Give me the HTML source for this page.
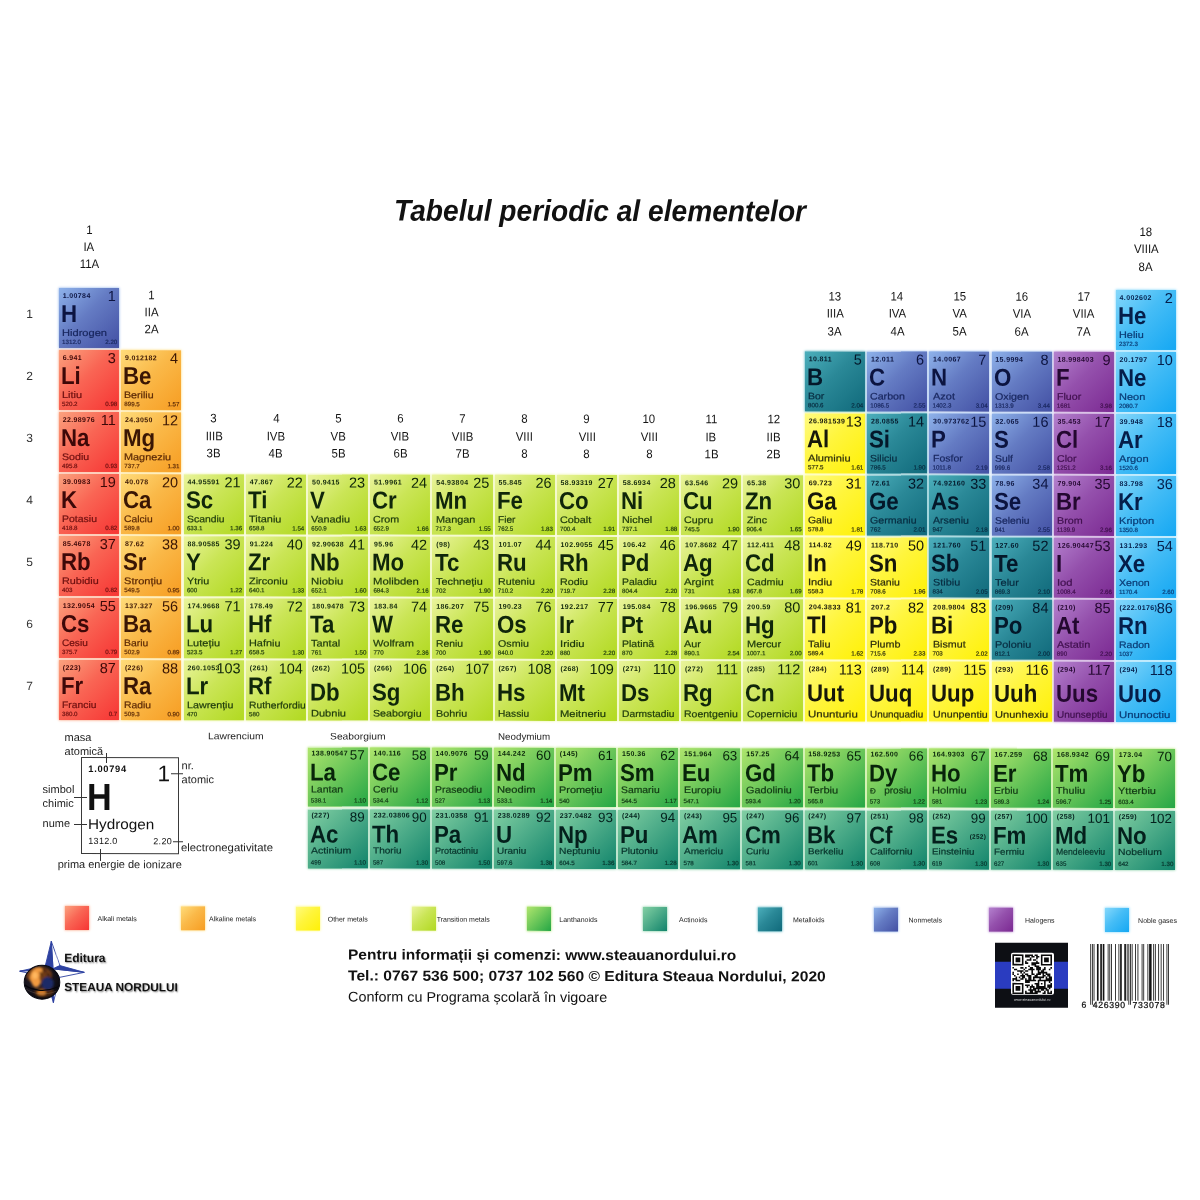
<!DOCTYPE html>
<html lang="ro">
<head>
<meta charset="utf-8">
<title>Tabelul periodic al elementelor</title>
<style>
html,body{margin:0;padding:0;background:#fff}
body{width:1200px;height:1200px;overflow:hidden;position:relative;font-family:"Liberation Sans",sans-serif;color:#1a1a1a}
#pg{position:absolute;left:0;top:0;width:1200px;height:1200px;transform:skewY(0.103deg);transform-origin:59px 288px}
#pg>div,#pg>span,#pg>svg,.c>span{position:absolute}
span{white-space:nowrap}
.c{width:60.2px;height:59.5px}
.m{left:3.8px;top:3.8px;font-weight:bold;font-size:7px;line-height:7px;letter-spacing:.38px}
.z{right:3.2px;top:1.2px;font-size:14.5px;line-height:14.5px}
.s{left:2.2px;top:13.7px;font-weight:bold;font-size:24.5px;line-height:24.5px;transform:scaleX(.91);transform-origin:0 0}
.n{left:3.3px;top:40.3px;font-size:9.5px;line-height:9.5px;transform:scaleX(1.2);transform-origin:0 0;-webkit-text-stroke:.22px currentColor}
.i{left:3.2px;top:50.7px;font-size:6.2px;line-height:6.2px;-webkit-text-stroke:.18px currentColor}
.e{right:1.8px;top:50.7px;font-size:6.2px;line-height:6.2px;-webkit-text-stroke:.18px currentColor}
.x .s{top:19.6px}
.x .n{top:48.4px}
.la,.ac{height:58.6px}
.la .m,.ac .m{top:1.5px}
.la .z,.ac .z{font-size:13.4px;line-height:13.4px;top:.5px}
.la .s,.ac .s{top:13.1px}
.la .n{top:36.5px}
.ac .n{font-size:8.9px;line-height:8.9px;top:37.2px}
.la .i,.la .e,.ac .i,.ac .e{top:49.9px}
.ak{background:linear-gradient(135deg,#fba27e 0%,#f96554 45%,#f73836 96%);color:#3d0808;box-shadow:0 0 2.4px .3px #fba27e}
.ak .n,.ak .i,.ak .e{color:#6e1010}
.ae{background:linear-gradient(135deg,#ffdc7a 0%,#fab949 45%,#f79f25 96%);color:#3a1604;box-shadow:0 0 2.4px .3px #ffdc7a}
.ae .n,.ae .i,.ae .e{color:#5c2a06}
.tm{background:linear-gradient(135deg,#eaf49c 0%,#cae556 45%,#b3da24 96%);color:#10260a;box-shadow:0 0 2.4px .3px #eaf49c}
.tm .n,.tm .i,.tm .e{color:#1e3a0c}
.om{background:linear-gradient(135deg,#fffb80 0%,#fff53c 45%,#fff10a 96%);color:#17170a;box-shadow:0 0 2.4px .3px #fffb80}
.om .n,.om .i,.om .e{color:#2e2e0c}
.md{background:linear-gradient(135deg,#4cafbc 0%,#2a8897 45%,#126c7d 96%);color:#04182a;box-shadow:0 0 2.4px .3px #4cafbc}
.md .n,.md .i,.md .e{color:#082c40}
.nm{background:linear-gradient(135deg,#8eb2ea 0%,#647bc3 45%,#4553a6 96%);color:#0c1440;box-shadow:0 0 2.4px .3px #8eb2ea}
.nm .n,.nm .i,.nm .e{color:#18265e}
.ha{background:linear-gradient(135deg,#b481ce 0%,#9450ac 45%,#7d2c94 96%);color:#240830;box-shadow:0 0 2.4px .3px #b481ce}
.ha .n,.ha .i,.ha .e{color:#40104e}
.ng{background:linear-gradient(135deg,#86d8fb 0%,#46bdf6 45%,#18a9f3 96%);color:#051e4a;box-shadow:0 0 2.4px .3px #86d8fb}
.ng .n,.ng .i,.ng .e{color:#0a3c76}
.la{background:linear-gradient(135deg,#ace46c 2%,#28a846 98%);color:#08240a;box-shadow:0 0 2.4px .3px #ace46c}
.la .n,.la .i,.la .e{color:#123a14}
.ac{background:linear-gradient(135deg,#80cea2 2%,#13856c 98%);color:#04201c;box-shadow:0 0 2.4px .3px #80cea2}
.ac .n,.ac .i,.ac .e{color:#08342c}
.g{width:70px;text-align:center;font-size:12.3px;line-height:17.2px;color:#151515}
.g span{display:inline-block;transform:scaleX(.93)}
.p{width:20px;text-align:center;font-size:12px;line-height:12px;color:#333}
#ttl{left:394.4px;top:194.7px;transform:scaleX(.9386);font-weight:bold;font-style:italic;font-size:30px;line-height:30px;color:#111;transform-origin:0 0;white-space:nowrap}
.lg{width:24px;height:24px}
.lt{font-size:7px;line-height:7px;color:#222}
.k{font-size:11px;line-height:11px;color:#222}
.ln{background:#333}
.ft{left:347.5px;font-size:14.5px;line-height:14.5px;color:#111;transform-origin:0 0;white-space:nowrap}
.lo{font-weight:bold;color:#111;text-shadow:.9px 1.1px 1.5px rgba(0,0,0,.42);transform-origin:0 0}
.bc{font-size:8.7px;line-height:8.7px;color:#111;letter-spacing:.68px;-webkit-text-stroke:.25px #111}
small{font-size:.8em}
.sm{font-size:9.5px;line-height:9.5px;color:#222;transform:scaleX(1.085);transform-origin:0 0}
</style>
</head>
<body>
<div id="pg">
<div id="ttl">Tabelul periodic al elementelor</div>
<div class="g" style="left:54.0px;top:221.9px"><span>1</span><br><span>IA</span><br><span>11A</span></div>
<div class="g" style="left:116.2px;top:286.9px"><span>1</span><br><span>IIA</span><br><span>2A</span></div>
<div class="g" style="left:178.8px;top:410.4px"><span>3</span><br><span>IIIB</span><br><span>3B</span></div>
<div class="g" style="left:241.0px;top:410.4px"><span>4</span><br><span>IVB</span><br><span>4B</span></div>
<div class="g" style="left:303.2px;top:410.4px"><span>5</span><br><span>VB</span><br><span>5B</span></div>
<div class="g" style="left:365.4px;top:410.4px"><span>6</span><br><span>VIB</span><br><span>6B</span></div>
<div class="g" style="left:427.5px;top:410.4px"><span>7</span><br><span>VIIB</span><br><span>7B</span></div>
<div class="g" style="left:489.7px;top:410.4px"><span>8</span><br><span>VIII</span><br><span>8</span></div>
<div class="g" style="left:551.9px;top:410.4px"><span>9</span><br><span>VIII</span><br><span>8</span></div>
<div class="g" style="left:614.0px;top:410.4px"><span>10</span><br><span>VIII</span><br><span>8</span></div>
<div class="g" style="left:676.2px;top:410.4px"><span>11</span><br><span>IB</span><br><span>1B</span></div>
<div class="g" style="left:738.4px;top:410.4px"><span>12</span><br><span>IIB</span><br><span>2B</span></div>
<div class="g" style="left:800.0px;top:287.1px"><span>13</span><br><span>IIIA</span><br><span>3A</span></div>
<div class="g" style="left:862.2px;top:287.1px"><span>14</span><br><span>IVA</span><br><span>4A</span></div>
<div class="g" style="left:924.4px;top:287.1px"><span>15</span><br><span>VA</span><br><span>5A</span></div>
<div class="g" style="left:986.6px;top:287.1px"><span>16</span><br><span>VIA</span><br><span>6A</span></div>
<div class="g" style="left:1048.7px;top:287.1px"><span>17</span><br><span>VIIA</span><br><span>7A</span></div>
<div class="g" style="left:1110.9px;top:222.1px"><span>18</span><br><span>VIIIA</span><br><span>8A</span></div>
<div class="p" style="left:19.5px;top:308.0px">1</div>
<div class="p" style="left:19.5px;top:370.0px">2</div>
<div class="p" style="left:19.5px;top:432.0px">3</div>
<div class="p" style="left:19.5px;top:494.0px">4</div>
<div class="p" style="left:19.5px;top:556.0px">5</div>
<div class="p" style="left:19.5px;top:618.0px">6</div>
<div class="p" style="left:19.5px;top:680.0px">7</div>
<div class="c nm" style="left:58.9px;top:288.0px"><span class="m">1.00784</span><span class="z">1</span><span class="s">H</span><span class="n" style="transform:scaleX(1.168)">Hidrogen</span><span class="i">1312.0</span><span class="e">2.20</span></div>
<div class="c ng" style="left:1115.8px;top:288.0px"><span class="m">4.002602</span><span class="z">2</span><span class="s">He</span><span class="n" style="transform:scaleX(1.144)">Heliu</span><span class="i">2372.3</span></div>
<div class="c ak" style="left:58.9px;top:350.0px"><span class="m">6.941</span><span class="z">3</span><span class="s">Li</span><span class="n" style="transform:scaleX(1.157)">Litiu</span><span class="i">520.2</span><span class="e">0.98</span></div>
<div class="c ae" style="left:121.1px;top:350.0px"><span class="m">9.012182</span><span class="z">4</span><span class="s">Be</span><span class="n" style="transform:scaleX(1.124)">Beriliu</span><span class="i">899.5</span><span class="e">1.57</span></div>
<div class="c md" style="left:804.9px;top:350.0px"><span class="m">10.811</span><span class="z">5</span><span class="s">B</span><span class="n" style="transform:scaleX(1.106)">Bor</span><span class="i">800.6</span><span class="e">2.04</span></div>
<div class="c nm" style="left:867.1px;top:350.0px"><span class="m">12.011</span><span class="z">6</span><span class="s">C</span><span class="n" style="transform:scaleX(1.119)">Carbon</span><span class="i">1086.5</span><span class="e">2.55</span></div>
<div class="c nm" style="left:929.3px;top:350.0px"><span class="m">14.0067</span><span class="z">7</span><span class="s">N</span><span class="n" style="transform:scaleX(1.155)">Azot</span><span class="i">1402.3</span><span class="e">3.04</span></div>
<div class="c nm" style="left:991.5px;top:350.0px"><span class="m">15.9994</span><span class="z">8</span><span class="s">O</span><span class="n" style="transform:scaleX(1.129)">Oxigen</span><span class="i">1313.9</span><span class="e">3.44</span></div>
<div class="c ha" style="left:1053.6px;top:350.0px"><span class="m">18.998403</span><span class="z">9</span><span class="s">F</span><span class="n" style="transform:scaleX(1.117)">Fluor</span><span class="i">1681</span><span class="e">3.98</span></div>
<div class="c ng" style="left:1115.8px;top:350.0px"><span class="m">20.1797</span><span class="z">10</span><span class="s">Ne</span><span class="n" style="transform:scaleX(1.157)">Neon</span><span class="i">2080.7</span></div>
<div class="c ak" style="left:58.9px;top:412.0px"><span class="m">22.98976</span><span class="z">11</span><span class="s">Na</span><span class="n" style="transform:scaleX(1.122)">Sodiu</span><span class="i">495.8</span><span class="e">0.93</span></div>
<div class="c ae" style="left:121.1px;top:412.0px"><span class="m">24.3050</span><span class="z">12</span><span class="s">Mg</span><span class="n" style="transform:scaleX(1.144)">Magneziu</span><span class="i">737.7</span><span class="e">1.31</span></div>
<div class="c om" style="left:804.9px;top:412.0px"><span class="m">26.981539</span><span class="z">13</span><span class="s">Al</span><span class="n" style="transform:scaleX(1.169)">Aluminiu</span><span class="i">577.5</span><span class="e">1.61</span></div>
<div class="c md" style="left:867.1px;top:412.0px"><span class="m">28.0855</span><span class="z">14</span><span class="s">Si</span><span class="n" style="transform:scaleX(1.105)">Siliciu</span><span class="i">786.5</span><span class="e">1.90</span></div>
<div class="c nm" style="left:929.3px;top:412.0px"><span class="m">30.973762</span><span class="z">15</span><span class="s">P</span><span class="n" style="transform:scaleX(1.106)">Fosfor</span><span class="i">1011.8</span><span class="e">2.19</span></div>
<div class="c nm" style="left:991.5px;top:412.0px"><span class="m">32.065</span><span class="z">16</span><span class="s">S</span><span class="n" style="transform:scaleX(1.094)">Sulf</span><span class="i">999.6</span><span class="e">2.58</span></div>
<div class="c ha" style="left:1053.6px;top:412.0px"><span class="m">35.453</span><span class="z">17</span><span class="s">Cl</span><span class="n" style="transform:scaleX(1.118)">Clor</span><span class="i">1251.2</span><span class="e">3.16</span></div>
<div class="c ng" style="left:1115.8px;top:412.0px"><span class="m">39.948</span><span class="z">18</span><span class="s">Ar</span><span class="n" style="transform:scaleX(1.169)">Argon</span><span class="i">1520.6</span></div>
<div class="c ak" style="left:58.9px;top:474.0px"><span class="m">39.0983</span><span class="z">19</span><span class="s">K</span><span class="n" style="transform:scaleX(1.104)">Potasiu</span><span class="i">418.8</span><span class="e">0.82</span></div>
<div class="c ae" style="left:121.1px;top:474.0px"><span class="m">40.078</span><span class="z">20</span><span class="s">Ca</span><span class="n" style="transform:scaleX(1.085)">Calciu</span><span class="i">589.8</span><span class="e">1.00</span></div>
<div class="c tm" style="left:183.7px;top:474.0px"><span class="m">44.95591</span><span class="z">21</span><span class="s">Sc</span><span class="n" style="transform:scaleX(1.094)">Scandiu</span><span class="i">633.1</span><span class="e">1.36</span></div>
<div class="c tm" style="left:245.9px;top:474.0px"><span class="m">47.867</span><span class="z">22</span><span class="s">Ti</span><span class="n" style="transform:scaleX(1.150)">Titaniu</span><span class="i">658.8</span><span class="e">1.54</span></div>
<div class="c tm" style="left:308.1px;top:474.0px"><span class="m">50.9415</span><span class="z">23</span><span class="s">V</span><span class="n" style="transform:scaleX(1.143)">Vanadiu</span><span class="i">650.9</span><span class="e">1.63</span></div>
<div class="c tm" style="left:370.2px;top:474.0px"><span class="m">51.9961</span><span class="z">24</span><span class="s">Cr</span><span class="n" style="transform:scaleX(1.128)">Crom</span><span class="i">652.9</span><span class="e">1.66</span></div>
<div class="c tm" style="left:432.4px;top:474.0px"><span class="m">54.93804</span><span class="z">25</span><span class="s">Mn</span><span class="n" style="transform:scaleX(1.148)">Mangan</span><span class="i">717.3</span><span class="e">1.55</span></div>
<div class="c tm" style="left:494.6px;top:474.0px"><span class="m">55.845</span><span class="z">26</span><span class="s">Fe</span><span class="n" style="transform:scaleX(1.062)">Fier</span><span class="i">762.5</span><span class="e">1.83</span></div>
<div class="c tm" style="left:556.8px;top:474.0px"><span class="m">58.93319</span><span class="z">27</span><span class="s">Co</span><span class="n" style="transform:scaleX(1.139)">Cobalt</span><span class="i">700.4</span><span class="e">1.91</span></div>
<div class="c tm" style="left:618.9px;top:474.0px"><span class="m">58.6934</span><span class="z">28</span><span class="s">Ni</span><span class="n" style="transform:scaleX(1.143)">Nichel</span><span class="i">737.1</span><span class="e">1.88</span></div>
<div class="c tm" style="left:681.1px;top:474.0px"><span class="m">63.546</span><span class="z">29</span><span class="s">Cu</span><span class="n" style="transform:scaleX(1.126)">Cupru</span><span class="i">745.5</span><span class="e">1.90</span></div>
<div class="c tm" style="left:743.3px;top:474.0px"><span class="m">65.38</span><span class="z">30</span><span class="s">Zn</span><span class="n" style="transform:scaleX(1.112)">Zinc</span><span class="i">906.4</span><span class="e">1.65</span></div>
<div class="c om" style="left:804.9px;top:474.0px"><span class="m">69.723</span><span class="z">31</span><span class="s">Ga</span><span class="n" style="transform:scaleX(1.098)">Galiu</span><span class="i">578.8</span><span class="e">1.81</span></div>
<div class="c md" style="left:867.1px;top:474.0px"><span class="m">72.61</span><span class="z">32</span><span class="s">Ge</span><span class="n" style="transform:scaleX(1.118)">Germaniu</span><span class="i">762</span><span class="e">2.01</span></div>
<div class="c md" style="left:929.3px;top:474.0px"><span class="m">74.92160</span><span class="z">33</span><span class="s">As</span><span class="n" style="transform:scaleX(1.116)">Arseniu</span><span class="i">947</span><span class="e">2.18</span></div>
<div class="c nm" style="left:991.5px;top:474.0px"><span class="m">78.96</span><span class="z">34</span><span class="s">Se</span><span class="n" style="transform:scaleX(1.092)">Seleniu</span><span class="i">941</span><span class="e">2.55</span></div>
<div class="c ha" style="left:1053.6px;top:474.0px"><span class="m">79.904</span><span class="z">35</span><span class="s">Br</span><span class="n" style="transform:scaleX(1.132)">Brom</span><span class="i">1139.9</span><span class="e">2.96</span></div>
<div class="c ng" style="left:1115.8px;top:474.0px"><span class="m">83.798</span><span class="z">36</span><span class="s">Kr</span><span class="n" style="transform:scaleX(1.171)">Kripton</span><span class="i">1350.8</span></div>
<div class="c ak" style="left:58.9px;top:536.0px"><span class="m">85.4678</span><span class="z">37</span><span class="s">Rb</span><span class="n" style="transform:scaleX(1.141)">Rubidiu</span><span class="i">403</span><span class="e">0.82</span></div>
<div class="c ae" style="left:121.1px;top:536.0px"><span class="m">87.62</span><span class="z">38</span><span class="s">Sr</span><span class="n" style="transform:scaleX(1.165)">Stronțiu</span><span class="i">549.5</span><span class="e">0.95</span></div>
<div class="c tm" style="left:183.7px;top:536.0px"><span class="m">88.90585</span><span class="z">39</span><span class="s">Y</span><span class="n" style="transform:scaleX(1.137)">Ytriu</span><span class="i">600</span><span class="e">1.22</span></div>
<div class="c tm" style="left:245.9px;top:536.0px"><span class="m">91.224</span><span class="z">40</span><span class="s">Zr</span><span class="n" style="transform:scaleX(1.150)">Zirconiu</span><span class="i">640.1</span><span class="e">1.33</span></div>
<div class="c tm" style="left:308.1px;top:536.0px"><span class="m">92.90638</span><span class="z">41</span><span class="s">Nb</span><span class="n" style="transform:scaleX(1.197)">Niobiu</span><span class="i">652.1</span><span class="e">1.60</span></div>
<div class="c tm" style="left:370.2px;top:536.0px"><span class="m">95.96</span><span class="z">42</span><span class="s">Mo</span><span class="n" style="transform:scaleX(1.191)">Molibden</span><span class="i">684.3</span><span class="e">2.16</span></div>
<div class="c tm" style="left:432.4px;top:536.0px"><span class="m">(98)</span><span class="z">43</span><span class="s">Tc</span><span class="n" style="transform:scaleX(1.149)">Technețiu</span><span class="i">702</span><span class="e">1.90</span></div>
<div class="c tm" style="left:494.6px;top:536.0px"><span class="m">101.07</span><span class="z">44</span><span class="s">Ru</span><span class="n" style="transform:scaleX(1.126)">Ruteniu</span><span class="i">710.2</span><span class="e">2.20</span></div>
<div class="c tm" style="left:556.8px;top:536.0px"><span class="m">102.9055</span><span class="z">45</span><span class="s">Rh</span><span class="n" style="transform:scaleX(1.127)">Rodiu</span><span class="i">719.7</span><span class="e">2.28</span></div>
<div class="c tm" style="left:618.9px;top:536.0px"><span class="m">106.42</span><span class="z">46</span><span class="s">Pd</span><span class="n" style="transform:scaleX(1.101)">Paladiu</span><span class="i">804.4</span><span class="e">2.20</span></div>
<div class="c tm" style="left:681.1px;top:536.0px"><span class="m">107.8682</span><span class="z">47</span><span class="s">Ag</span><span class="n" style="transform:scaleX(1.192)">Argint</span><span class="i">731</span><span class="e">1.93</span></div>
<div class="c tm" style="left:743.3px;top:536.0px"><span class="m">112.411</span><span class="z">48</span><span class="s">Cd</span><span class="n" style="transform:scaleX(1.122)">Cadmiu</span><span class="i">867.8</span><span class="e">1.69</span></div>
<div class="c om" style="left:804.9px;top:536.0px"><span class="m">114.82</span><span class="z">49</span><span class="s">In</span><span class="n" style="transform:scaleX(1.172)">Indiu</span><span class="i">558.3</span><span class="e">1.78</span></div>
<div class="c om" style="left:867.1px;top:536.0px"><span class="m">118.710</span><span class="z">50</span><span class="s">Sn</span><span class="n" style="transform:scaleX(1.108)">Staniu</span><span class="i">708.6</span><span class="e">1.96</span></div>
<div class="c md" style="left:929.3px;top:536.0px"><span class="m">121.760</span><span class="z">51</span><span class="s">Sb</span><span class="n" style="transform:scaleX(1.145)">Stibiu</span><span class="i">834</span><span class="e">2.05</span></div>
<div class="c md" style="left:991.5px;top:536.0px"><span class="m">127.60</span><span class="z">52</span><span class="s">Te</span><span class="n" style="transform:scaleX(1.160)">Telur</span><span class="i">869.3</span><span class="e">2.10</span></div>
<div class="c ha" style="left:1053.6px;top:536.0px"><span class="m">126.90447</span><span class="z">53</span><span class="s">I</span><span class="n" style="transform:scaleX(1.183)">Iod</span><span class="i">1008.4</span><span class="e">2.66</span></div>
<div class="c ng" style="left:1115.8px;top:536.0px"><span class="m">131.293</span><span class="z">54</span><span class="s">Xe</span><span class="n" style="transform:scaleX(1.117)">Xenon</span><span class="i">1170.4</span><span class="e">2.60</span></div>
<div class="c ak" style="left:58.9px;top:598.0px"><span class="m">132.9054</span><span class="z">55</span><span class="s">Cs</span><span class="n" style="transform:scaleX(1.060)">Cesiu</span><span class="i">375.7</span><span class="e">0.79</span></div>
<div class="c ae" style="left:121.1px;top:598.0px"><span class="m">137.327</span><span class="z">56</span><span class="s">Ba</span><span class="n" style="transform:scaleX(1.094)">Bariu</span><span class="i">502.9</span><span class="e">0.89</span></div>
<div class="c tm" style="left:183.7px;top:598.0px"><span class="m">174.9668</span><span class="z">71</span><span class="s">Lu</span><span class="n" style="transform:scaleX(1.158)">Lutețiu</span><span class="i">523.5</span><span class="e">1.27</span></div>
<div class="c tm" style="left:245.9px;top:598.0px"><span class="m">178.49</span><span class="z">72</span><span class="s">Hf</span><span class="n" style="transform:scaleX(1.147)">Hafniu</span><span class="i">658.5</span><span class="e">1.30</span></div>
<div class="c tm" style="left:308.1px;top:598.0px"><span class="m">180.9478</span><span class="z">73</span><span class="s">Ta</span><span class="n" style="transform:scaleX(1.150)">Tantal</span><span class="i">761</span><span class="e">1.50</span></div>
<div class="c tm" style="left:370.2px;top:598.0px"><span class="m">183.84</span><span class="z">74</span><span class="s">W</span><span class="n" style="transform:scaleX(1.165)">Wolfram</span><span class="i">770</span><span class="e">2.36</span></div>
<div class="c tm" style="left:432.4px;top:598.0px"><span class="m">186.207</span><span class="z">75</span><span class="s">Re</span><span class="n" style="transform:scaleX(1.090)">Reniu</span><span class="i">700</span><span class="e">1.90</span></div>
<div class="c tm" style="left:494.6px;top:598.0px"><span class="m">190.23</span><span class="z">76</span><span class="s">Os</span><span class="n" style="transform:scaleX(1.125)">Osmiu</span><span class="i">840.0</span><span class="e">2.20</span></div>
<div class="c tm" style="left:556.8px;top:598.0px"><span class="m">192.217</span><span class="z">77</span><span class="s">Ir</span><span class="n" style="transform:scaleX(1.186)">Iridiu</span><span class="i">880</span><span class="e">2.20</span></div>
<div class="c tm" style="left:618.9px;top:598.0px"><span class="m">195.084</span><span class="z">78</span><span class="s">Pt</span><span class="n" style="transform:scaleX(1.108)">Platină</span><span class="i">870</span><span class="e">2.28</span></div>
<div class="c tm" style="left:681.1px;top:598.0px"><span class="m">196.9665</span><span class="z">79</span><span class="s">Au</span><span class="n" style="transform:scaleX(1.143)">Aur</span><span class="i">890.1</span><span class="e">2.54</span></div>
<div class="c tm" style="left:743.3px;top:598.0px"><span class="m">200.59</span><span class="z">80</span><span class="s">Hg</span><span class="n" style="transform:scaleX(1.154)">Mercur</span><span class="i">1007.1</span><span class="e">2.00</span></div>
<div class="c om" style="left:804.9px;top:598.0px"><span class="m">204.3833</span><span class="z">81</span><span class="s">Tl</span><span class="n" style="transform:scaleX(1.156)">Taliu</span><span class="i">589.4</span><span class="e">1.62</span></div>
<div class="c om" style="left:867.1px;top:598.0px"><span class="m">207.2</span><span class="z">82</span><span class="s">Pb</span><span class="n" style="transform:scaleX(1.135)">Plumb</span><span class="i">715.6</span><span class="e">2.33</span></div>
<div class="c om" style="left:929.3px;top:598.0px"><span class="m">208.9804</span><span class="z">83</span><span class="s">Bi</span><span class="n" style="transform:scaleX(1.123)">Bismut</span><span class="i">703</span><span class="e">2.02</span></div>
<div class="c md" style="left:991.5px;top:598.0px"><span class="m">(209)</span><span class="z">84</span><span class="s">Po</span><span class="n" style="transform:scaleX(1.145)">Poloniu</span><span class="i">812.1</span><span class="e">2.00</span></div>
<div class="c ha" style="left:1053.6px;top:598.0px"><span class="m">(210)</span><span class="z">85</span><span class="s">At</span><span class="n" style="transform:scaleX(1.144)">Astatin</span><span class="i">890</span><span class="e">2.20</span></div>
<div class="c ng" style="left:1115.8px;top:598.0px"><span class="m">(222.0176)</span><span class="z">86</span><span class="s">Rn</span><span class="n" style="transform:scaleX(1.103)">Radon</span><span class="i">1037</span></div>
<div class="c ak" style="left:58.9px;top:660.0px"><span class="m">(223)</span><span class="z">87</span><span class="s">Fr</span><span class="n" style="transform:scaleX(1.089)">Franciu</span><span class="i">380.0</span><span class="e">0.7</span></div>
<div class="c ae" style="left:121.1px;top:660.0px"><span class="m">(226)</span><span class="z">88</span><span class="s">Ra</span><span class="n" style="transform:scaleX(1.094)">Radiu</span><span class="i">509.3</span><span class="e">0.90</span></div>
<div class="c tm" style="left:183.7px;top:660.0px"><span class="m">260.1053</span><span class="z">103</span><span class="s">Lr</span><span class="n" style="transform:scaleX(1.128)">Lawrențiu</span><span class="i">470</span></div>
<div class="c tm" style="left:245.9px;top:660.0px"><span class="m">(261)</span><span class="z">104</span><span class="s">Rf</span><span class="n" style="transform:scaleX(1.086)">Rutherfordiu</span><span class="i">580</span></div>
<div class="c tm x" style="left:308.1px;top:660.0px"><span class="m">(262)</span><span class="z">105</span><span class="s">Db</span><span class="n" style="transform:scaleX(1.163)">Dubniu</span></div>
<div class="c tm x" style="left:370.2px;top:660.0px"><span class="m">(266)</span><span class="z">106</span><span class="s">Sg</span><span class="n" style="transform:scaleX(1.122)">Seaborgiu</span></div>
<div class="c tm x" style="left:432.4px;top:660.0px"><span class="m">(264)</span><span class="z">107</span><span class="s">Bh</span><span class="n" style="transform:scaleX(1.137)">Bohriu</span></div>
<div class="c tm x" style="left:494.6px;top:660.0px"><span class="m">(267)</span><span class="z">108</span><span class="s">Hs</span><span class="n" style="transform:scaleX(1.074)">Hassiu</span></div>
<div class="c tm x" style="left:556.8px;top:660.0px"><span class="m">(268)</span><span class="z">109</span><span class="s">Mt</span><span class="n" style="transform:scaleX(1.179)">Meitneriu</span></div>
<div class="c tm x" style="left:618.9px;top:660.0px"><span class="m">(271)</span><span class="z">110</span><span class="s">Ds</span><span class="n" style="transform:scaleX(1.081)">Darmstadiu</span></div>
<div class="c tm x" style="left:681.1px;top:660.0px"><span class="m">(272)</span><span class="z">111</span><span class="s">Rg</span><span class="n" style="transform:scaleX(1.106)">Roentgeniu</span></div>
<div class="c tm x" style="left:743.3px;top:660.0px"><span class="m">(285)</span><span class="z">112</span><span class="s">Cn</span><span class="n" style="transform:scaleX(1.112)">Coperniciu</span></div>
<div class="c om x" style="left:804.9px;top:660.0px"><span class="m">(284)</span><span class="z">113</span><span class="s">Uut</span><span class="n" style="transform:scaleX(1.209)">Ununturiu</span></div>
<div class="c om x" style="left:867.1px;top:660.0px"><span class="m">(289)</span><span class="z">114</span><span class="s">Uuq</span><span class="n" style="transform:scaleX(1.040)">Ununquadiu</span></div>
<div class="c om x" style="left:929.3px;top:660.0px"><span class="m">(289)</span><span class="z">115</span><span class="s">Uup</span><span class="n" style="transform:scaleX(1.128)">Ununpentiu</span></div>
<div class="c om x" style="left:991.5px;top:660.0px"><span class="m">(293)</span><span class="z">116</span><span class="s">Uuh</span><span class="n" style="transform:scaleX(1.169)">Ununhexiu</span></div>
<div class="c ha x" style="left:1053.6px;top:660.0px"><span class="m">(294)</span><span class="z">117</span><span class="s">Uus</span><span class="n" style="transform:scaleX(1.051)">Ununseptiu</span></div>
<div class="c ng x" style="left:1115.8px;top:660.0px"><span class="m">(294)</span><span class="z">118</span><span class="s">Uuo</span><span class="n" style="transform:scaleX(1.202)">Ununoctiu</span></div>
<div class="c la" style="left:307.6px;top:747.2px"><span class="m">138.90547</span><span class="z">57</span><span class="s">La</span><span class="n" style="transform:scaleX(1.105)">Lantan</span><span class="i">538.1</span><span class="e">1.10</span></div>
<div class="c la" style="left:369.7px;top:747.2px"><span class="m">140.116</span><span class="z">58</span><span class="s">Ce</span><span class="n" style="transform:scaleX(1.098)">Ceriu</span><span class="i">534.4</span><span class="e">1.12</span></div>
<div class="c la" style="left:431.8px;top:747.2px"><span class="m">140.9076</span><span class="z">59</span><span class="s">Pr</span><span class="n" style="transform:scaleX(1.102)">Praseodiu</span><span class="i">527</span><span class="e">1.13</span></div>
<div class="c la" style="left:493.9px;top:747.2px"><span class="m">144.242</span><span class="z">60</span><span class="s">Nd</span><span class="n" style="transform:scaleX(1.176)">Neodim</span><span class="i">533.1</span><span class="e">1.14</span></div>
<div class="c la" style="left:556.0px;top:747.2px"><span class="m">(145)</span><span class="z">61</span><span class="s">Pm</span><span class="n" style="transform:scaleX(1.148)">Promețiu</span><span class="i">540</span></div>
<div class="c la" style="left:618.2px;top:747.2px"><span class="m">150.36</span><span class="z">62</span><span class="s">Sm</span><span class="n" style="transform:scaleX(1.093)">Samariu</span><span class="i">544.5</span><span class="e">1.17</span></div>
<div class="c la" style="left:680.3px;top:747.2px"><span class="m">151.964</span><span class="z">63</span><span class="s">Eu</span><span class="n" style="transform:scaleX(1.127)">Europiu</span><span class="i">547.1</span></div>
<div class="c la" style="left:742.4px;top:747.2px"><span class="m">157.25</span><span class="z">64</span><span class="s">Gd</span><span class="n" style="transform:scaleX(1.142)">Gadoliniu</span><span class="i">593.4</span><span class="e">1.20</span></div>
<div class="c la" style="left:804.5px;top:747.2px"><span class="m">158.9253</span><span class="z">65</span><span class="s">Tb</span><span class="n" style="transform:scaleX(1.170)">Terbiu</span><span class="i">565.8</span></div>
<div class="c la" style="left:866.6px;top:747.2px"><span class="m">162.500</span><span class="z">66</span><span class="s">Dy</span><span class="n" style="transform:scaleX(1.058)"><small>Đ</small>  prosiu</span><span class="i">573</span><span class="e">1.22</span></div>
<div class="c la" style="left:928.7px;top:747.2px"><span class="m">164.9303</span><span class="z">67</span><span class="s">Ho</span><span class="n" style="transform:scaleX(1.177)">Holmiu</span><span class="i">581</span><span class="e">1.23</span></div>
<div class="c la" style="left:990.8px;top:747.2px"><span class="m">167.259</span><span class="z">68</span><span class="s">Er</span><span class="n" style="transform:scaleX(1.100)">Erbiu</span><span class="i">589.3</span><span class="e">1.24</span></div>
<div class="c la" style="left:1052.9px;top:747.2px"><span class="m">168.9342</span><span class="z">69</span><span class="s">Tm</span><span class="n" style="transform:scaleX(1.133)">Thuliu</span><span class="i">596.7</span><span class="e">1.25</span></div>
<div class="c la" style="left:1115.0px;top:747.2px"><span class="m">173.04</span><span class="z">70</span><span class="s">Yb</span><span class="n" style="transform:scaleX(1.159)">Ytterbiu</span><span class="i">603.4</span></div>
<div class="c ac" style="left:307.6px;top:809.1px"><span class="m">(227)</span><span class="z">89</span><span class="s">Ac</span><span class="n" style="transform:scaleX(1.187)">Actinium</span><span class="i">499</span><span class="e">1.10</span></div>
<div class="c ac" style="left:369.7px;top:809.1px"><span class="m">232.03806</span><span class="z">90</span><span class="s">Th</span><span class="n" style="transform:scaleX(1.133)">Thoriu</span><span class="i">587</span><span class="e">1.30</span></div>
<div class="c ac" style="left:431.8px;top:809.1px"><span class="m">231.0358</span><span class="z">91</span><span class="s">Pa</span><span class="n" style="transform:scaleX(1.025)">Protactiniu</span><span class="i">508</span><span class="e">1.50</span></div>
<div class="c ac" style="left:493.9px;top:809.1px"><span class="m">238.0289</span><span class="z">92</span><span class="s">U</span><span class="n" style="transform:scaleX(1.123)">Uraniu</span><span class="i">597.6</span><span class="e">1.38</span></div>
<div class="c ac" style="left:556.0px;top:809.1px"><span class="m">237.0482</span><span class="z">93</span><span class="s">Np</span><span class="n" style="transform:scaleX(1.159)">Neptuniu</span><span class="i">604.5</span><span class="e">1.36</span></div>
<div class="c ac" style="left:618.2px;top:809.1px"><span class="m">(244)</span><span class="z">94</span><span class="s">Pu</span><span class="n" style="transform:scaleX(1.151)">Plutoniu</span><span class="i">584.7</span><span class="e">1.28</span></div>
<div class="c ac" style="left:680.3px;top:809.1px"><span class="m">(243)</span><span class="z">95</span><span class="s">Am</span><span class="n" style="transform:scaleX(1.134)">Americiu</span><span class="i">578</span><span class="e">1.30</span></div>
<div class="c ac" style="left:742.4px;top:809.1px"><span class="m">(247)</span><span class="z">96</span><span class="s">Cm</span><span class="n" style="transform:scaleX(1.111)">Curiu</span><span class="i">581</span><span class="e">1.30</span></div>
<div class="c ac" style="left:804.5px;top:809.1px"><span class="m">(247)</span><span class="z">97</span><span class="s">Bk</span><span class="n" style="transform:scaleX(1.103)">Berkeliu</span><span class="i">601</span><span class="e">1.30</span></div>
<div class="c ac" style="left:866.6px;top:809.1px"><span class="m">(251)</span><span class="z">98</span><span class="s">Cf</span><span class="n" style="transform:scaleX(1.137)">Californiu</span><span class="i">608</span><span class="e">1.30</span></div>
<div class="c ac" style="left:928.7px;top:809.1px"><span class="m">(252)</span><span class="z">99</span><span class="s">Es</span><span class="n" style="transform:scaleX(1.103)">Einsteiniu</span><span class="i">619</span><span class="e">1.30</span><span class="m" style="left:auto;right:2.8px;top:22.4px;font-size:6.4px;letter-spacing:.3px">(252)</span></div>
<div class="c ac" style="left:990.8px;top:809.1px"><span class="m">(257)</span><span class="z">100</span><span class="s">Fm</span><span class="n" style="transform:scaleX(1.104)">Fermiu</span><span class="i">627</span><span class="e">1.30</span></div>
<div class="c ac" style="left:1052.9px;top:809.1px"><span class="m">(258)</span><span class="z">101</span><span class="s">Md</span><span class="n" style="transform:scaleX(0.977)">Mendeleeviu</span><span class="i">635</span><span class="e">1.30</span></div>
<div class="c ac" style="left:1115.0px;top:809.1px"><span class="m">(259)</span><span class="z">102</span><span class="s">No</span><span class="n" style="transform:scaleX(1.170)">Nobelium</span><span class="i">642</span><span class="e">1.30</span></div>
<span class="sm" style="left:207.6px;top:730.6px">Lawrencium</span>
<span class="sm" style="left:329.5px;top:730.6px">Seaborgium</span>
<span class="sm" style="left:497.6px;top:730.8px;transform:scaleX(1.03)">Neodymium</span>
<div style="left:81.2px;top:757.2px;width:95.6px;height:95.2px;border:1px solid #3a3a3a"></div>
<span class="k" style="left:64.6px;top:732.1px;font-size:11px;line-height:11px;">masa</span>
<span class="k" style="left:64.6px;top:746.1px;font-size:11px;line-height:11px;">atomică</span>
<span class="k" style="left:181.6px;top:759.9px;font-size:11px;line-height:11px;">nr.</span>
<span class="k" style="left:181.6px;top:773.9px;font-size:11px;line-height:11px;">atomic</span>
<span class="k" style="left:42.6px;top:784.1px;font-size:11px;line-height:11px;">simbol</span>
<span class="k" style="left:42.6px;top:798.1px;font-size:11px;line-height:11px;">chimic</span>
<span class="k" style="left:42.6px;top:818.1px;font-size:11px;line-height:11px;">nume</span>
<span class="k" style="left:181.2px;top:841.5px;font-size:11px;line-height:11px;transform:scaleX(1.03);transform-origin:0 0">electronegativitate</span>
<span class="k" style="left:57.7px;top:858.7px;font-size:11px;line-height:11px;">prima energie de ionizare</span>
<span class="k" style="left:88.3px;top:765.4px;font-size:9.3px;line-height:9.3px;font-weight:bold;letter-spacing:.7px;color:#111">1.00794</span>
<span class="k" style="left:157.5px;top:763.3px;font-size:22.6px;line-height:22.6px;color:#111">1</span>
<span class="k" style="left:86.8px;top:777.8px;font-size:38px;line-height:38px;font-weight:bold;color:#111;transform:scaleX(.9);transform-origin:0 0">H</span>
<span class="k" style="left:88.0px;top:816.9px;font-size:14.3px;line-height:14.3px;color:#111;transform:scaleX(1.07);transform-origin:0 0">Hydrogen</span>
<span class="k" style="left:88.3px;top:837.0px;font-size:9px;line-height:9px;color:#111;letter-spacing:.3px">1312.0</span>
<span class="k" style="left:153.3px;top:837.0px;font-size:9px;line-height:9px;color:#111;letter-spacing:.3px">2.20</span>
<div class="ln" style="left:105.8px;top:752.7px;width:1.0px;height:10.5px"></div>
<div class="ln" style="left:170.8px;top:772.6px;width:12.0px;height:1.0px"></div>
<div class="ln" style="left:74.4px;top:796.7px;width:12.4px;height:1.0px"></div>
<div class="ln" style="left:74.4px;top:824.2px;width:12.4px;height:1.0px"></div>
<div class="ln" style="left:173.0px;top:840.9px;width:9.8px;height:1.0px"></div>
<div class="ln" style="left:99.9px;top:848.5px;width:1.0px;height:12.0px"></div>
<div class="lg ak" style="left:65.0px;top:906.3px"></div><span class="lt" style="left:97.5px;top:914.5px">Alkali metals</span>
<div class="lg ae" style="left:180.5px;top:906.3px"></div><span class="lt" style="left:209.0px;top:914.5px">Alkaline metals</span>
<div class="lg om" style="left:296.0px;top:906.3px"></div><span class="lt" style="left:327.7px;top:914.5px">Other metals</span>
<div class="lg tm" style="left:411.5px;top:906.3px"></div><span class="lt" style="left:436.7px;top:914.5px">Transition metals</span>
<div class="lg la" style="left:527.0px;top:906.3px"></div><span class="lt" style="left:559.3px;top:914.5px">Lanthanoids</span>
<div class="lg ac" style="left:642.5px;top:906.3px"></div><span class="lt" style="left:679.0px;top:914.5px">Actinoids</span>
<div class="lg md" style="left:758.0px;top:906.3px"></div><span class="lt" style="left:793.0px;top:914.5px">Metalloids</span>
<div class="lg nm" style="left:873.5px;top:906.3px"></div><span class="lt" style="left:908.5px;top:914.5px">Nonmetals</span>
<div class="lg ha" style="left:989.0px;top:906.3px"></div><span class="lt" style="left:1025.0px;top:914.5px">Halogens</span>
<div class="lg ng" style="left:1104.5px;top:906.3px"></div><span class="lt" style="left:1138.1px;top:914.5px">Noble gases</span>
<div class="ft" id="f1" style="top:947.0px;font-weight:bold;transform:scaleX(1.0703)">Pentru informații și comenzi: www.steauanordului.ro</div>
<div class="ft" id="f2" style="top:967.7px;font-weight:bold;transform:scaleX(1.078)">Tel.: 0767 536 500; 0737 102 560 © Editura Steaua Nordului, 2020</div>
<div class="ft" id="f3" style="top:988.9px;font-size:14px;transform:scaleX(1.028)">Conform cu Programa școlară în vigoare</div>
<svg style="left:14px;top:936px" width="80" height="72" viewBox="14 936 80 72">
<defs>
<radialGradient id="gl" cx="42%" cy="40%" r="62%"><stop offset="0" stop-color="#2a2230"/><stop offset=".7" stop-color="#15121a"/><stop offset="1" stop-color="#08080e"/></radialGradient>
<radialGradient id="or" cx="45%" cy="35%" r="65%"><stop offset="0" stop-color="#f2a850"/><stop offset=".6" stop-color="#c8722a"/><stop offset="1" stop-color="#6a3414"/></radialGradient>
<filter id="bl" x="-20%" y="-20%" width="140%" height="140%"><feGaussianBlur stdDeviation=".8"/></filter>
<clipPath id="gc"><ellipse cx="42" cy="982.3" rx="17.6" ry="16.7"/></clipPath>
</defs>
<g stroke="#2d41a0" stroke-width=".9" stroke-linejoin="miter">
<polygon points="51.3,941.3 60,965.6 53,968.9" fill="#fff"/>
<polygon points="53,968.9 84.3,972.3 59.4,977.4" fill="#fff"/>
<polygon points="59.4,977.4 53.4,1002.6 53,968.9" fill="#fff"/>
<polygon points="53,968.9 19.7,971.3 46,977.2" fill="#fff"/>
<polygon points="51.3,941.3 45.4,965.4 53,968.9" fill="#2d41a0"/>
<polygon points="60,965.6 84.3,972.3 53,968.9" fill="#2d41a0"/>
<polygon points="46,977.2 53.4,1002.6 53,968.9" fill="#2d41a0"/>
<polygon points="45.4,965.4 19.7,971.3 53,968.9" fill="#2d41a0"/>
</g>
<path d="M55.2 947.5l3 16.5M56.6 946l3.2 17.5" stroke="#fff" stroke-width=".5" fill="none"/>
<ellipse cx="42" cy="982.3" rx="17.8" ry="16.9" fill="url(#gl)"/>
<g clip-path="url(#gc)">
<g filter="url(#bl)">
<ellipse cx="39" cy="975" rx="13" ry="8.5" fill="#6e3a16"/>
<ellipse cx="44" cy="992" rx="10" ry="5" fill="#4a2810"/>
<path d="M30.5 975c1-4 4-7 8-7.5 3 0 4.500 2 3.500 4.500-1 2-2.500 3-2.500 5.500s1.500 4 .5 6.500-3 3.500-5 3c-2-.5-3-3-4-5.500s-1.500-4.500-.5-6.500z" fill="#f09a40"/>
<ellipse cx="35" cy="975.5" rx="2.6" ry="3.6" fill="#ffb860"/>
<ellipse cx="47.6" cy="983.4" rx="6" ry="6.6" fill="#1a2a66"/>
<ellipse cx="41.5" cy="992.6" rx="4.4" ry="2.9" fill="#cf7a2c"/>
<path d="M44 969l2 3M40 972l1 3M33 986l2 2M47 974l3 2M50 978l3 1" stroke="#140c08" stroke-width="1.3" fill="none"/>
</g>
<path d="M25 985c6 5 19 8 33 2" stroke="#05050a" stroke-width="1.2" fill="none"/>
<path d="M26 989c7 5 19 7 31 2" stroke="#a09080" stroke-width=".45" fill="none" opacity=".55"/>
</g>
<ellipse cx="42" cy="982.3" rx="17.8" ry="16.9" fill="none" stroke="#0a0a12" stroke-width="1"/>
</svg>
<span class="lo" id="l1" style="left:64.2px;top:952.1px;font-size:12px;line-height:12px">Editura</span>
<span class="lo" id="l2" style="left:64.2px;top:981.8px;font-size:11.8px;line-height:11.8px">STEAUA NORDULUI</span>
<div style="left:995px;top:941.2px;width:73px;height:64.6px;background:#0d0f14"></div>
<div style="left:995px;top:960.2px;width:73px;height:27px;background:#2a3cc0"></div>
<div style="left:1011px;top:951.2px;width:42.6px;height:42.2px;background:#fff;border-radius:2px"></div>
<svg style="left:0;top:0" width="1200" height="1200" viewBox="0 0 1200 1200"><path fill="#0a0a0a" d="M1012.40 952.65h11.09v1.58h-11.09zM1025.07 952.65h7.92v1.58h-7.92zM1034.58 952.65h3.17v1.58h-3.17zM1040.91 952.65h11.09v1.58h-11.09zM1012.40 954.23h1.58v1.58h-1.58zM1021.90 954.23h1.58v1.58h-1.58zM1025.07 954.23h4.75v1.58h-4.75zM1031.41 954.23h3.17v1.58h-3.17zM1036.16 954.23h3.17v1.58h-3.17zM1040.91 954.23h1.58v1.58h-1.58zM1050.42 954.23h1.58v1.58h-1.58zM1012.40 955.82h1.58v1.58h-1.58zM1015.57 955.82h4.75v1.58h-4.75zM1021.90 955.82h1.58v1.58h-1.58zM1029.82 955.82h1.58v1.58h-1.58zM1036.16 955.82h1.58v1.58h-1.58zM1040.91 955.82h1.58v1.58h-1.58zM1044.08 955.82h4.75v1.58h-4.75zM1050.42 955.82h1.58v1.58h-1.58zM1012.40 957.40h1.58v1.58h-1.58zM1015.57 957.40h4.75v1.58h-4.75zM1021.90 957.40h1.58v1.58h-1.58zM1026.66 957.40h4.75v1.58h-4.75zM1032.99 957.40h3.17v1.58h-3.17zM1040.91 957.40h1.58v1.58h-1.58zM1044.08 957.40h4.75v1.58h-4.75zM1050.42 957.40h1.58v1.58h-1.58zM1012.40 958.99h1.58v1.58h-1.58zM1015.57 958.99h4.75v1.58h-4.75zM1021.90 958.99h1.58v1.58h-1.58zM1025.07 958.99h1.58v1.58h-1.58zM1036.16 958.99h1.58v1.58h-1.58zM1040.91 958.99h1.58v1.58h-1.58zM1044.08 958.99h4.75v1.58h-4.75zM1050.42 958.99h1.58v1.58h-1.58zM1012.40 960.57h1.58v1.58h-1.58zM1021.90 960.57h1.58v1.58h-1.58zM1025.07 960.57h3.17v1.58h-3.17zM1031.41 960.57h7.92v1.58h-7.92zM1040.91 960.57h1.58v1.58h-1.58zM1050.42 960.57h1.58v1.58h-1.58zM1012.40 962.15h11.09v1.58h-11.09zM1031.41 962.15h4.75v1.58h-4.75zM1040.91 962.15h11.09v1.58h-11.09zM1028.24 963.74h1.58v1.58h-1.58zM1034.58 963.74h4.75v1.58h-4.75zM1012.40 965.32h1.58v1.58h-1.58zM1020.32 965.32h3.17v1.58h-3.17zM1025.07 965.32h1.58v1.58h-1.58zM1029.82 965.32h3.17v1.58h-3.17zM1036.16 965.32h4.75v1.58h-4.75zM1044.08 965.32h1.58v1.58h-1.58zM1050.42 965.32h1.58v1.58h-1.58zM1013.98 966.91h3.17v1.58h-3.17zM1023.49 966.91h1.58v1.58h-1.58zM1028.24 966.91h6.34v1.58h-6.34zM1036.16 966.91h4.75v1.58h-4.75zM1042.50 966.91h3.17v1.58h-3.17zM1048.83 966.91h1.58v1.58h-1.58zM1017.15 968.49h6.34v1.58h-6.34zM1025.07 968.49h3.17v1.58h-3.17zM1031.41 968.49h1.58v1.58h-1.58zM1037.74 968.49h1.58v1.58h-1.58zM1040.91 968.49h3.17v1.58h-3.17zM1012.40 970.07h1.58v1.58h-1.58zM1020.32 970.07h1.58v1.58h-1.58zM1023.49 970.07h1.58v1.58h-1.58zM1031.41 970.07h1.58v1.58h-1.58zM1037.74 970.07h9.50v1.58h-9.50zM1012.40 971.66h1.58v1.58h-1.58zM1017.15 971.66h1.58v1.58h-1.58zM1021.90 971.66h1.58v1.58h-1.58zM1025.07 971.66h3.17v1.58h-3.17zM1031.41 971.66h3.17v1.58h-3.17zM1036.16 971.66h4.75v1.58h-4.75zM1042.50 971.66h1.58v1.58h-1.58zM1045.66 971.66h4.75v1.58h-4.75zM1013.98 973.24h1.58v1.58h-1.58zM1020.32 973.24h4.75v1.58h-4.75zM1026.66 973.24h4.75v1.58h-4.75zM1034.58 973.24h3.17v1.58h-3.17zM1042.50 973.24h3.17v1.58h-3.17zM1047.25 973.24h3.17v1.58h-3.17zM1015.57 974.83h1.58v1.58h-1.58zM1018.74 974.83h1.58v1.58h-1.58zM1021.90 974.83h3.17v1.58h-3.17zM1028.24 974.83h3.17v1.58h-3.17zM1032.99 974.83h11.09v1.58h-11.09zM1045.66 974.83h1.58v1.58h-1.58zM1048.83 974.83h3.17v1.58h-3.17zM1012.40 976.41h4.75v1.58h-4.75zM1020.32 976.41h3.17v1.58h-3.17zM1025.07 976.41h1.58v1.58h-1.58zM1028.24 976.41h3.17v1.58h-3.17zM1032.99 976.41h1.58v1.58h-1.58zM1039.33 976.41h1.58v1.58h-1.58zM1045.66 976.41h6.34v1.58h-6.34zM1012.40 977.99h1.58v1.58h-1.58zM1015.57 977.99h4.75v1.58h-4.75zM1025.07 977.99h11.09v1.58h-11.09zM1037.74 977.99h14.26v1.58h-14.26zM1025.07 979.58h4.75v1.58h-4.75zM1037.74 979.58h1.58v1.58h-1.58zM1044.08 979.58h1.58v1.58h-1.58zM1048.83 979.58h1.58v1.58h-1.58zM1012.40 981.16h11.09v1.58h-11.09zM1034.58 981.16h4.75v1.58h-4.75zM1040.91 981.16h1.58v1.58h-1.58zM1044.08 981.16h1.58v1.58h-1.58zM1050.42 981.16h1.58v1.58h-1.58zM1012.40 982.75h1.58v1.58h-1.58zM1021.90 982.75h1.58v1.58h-1.58zM1025.07 982.75h4.75v1.58h-4.75zM1031.41 982.75h1.58v1.58h-1.58zM1036.16 982.75h3.17v1.58h-3.17zM1044.08 982.75h1.58v1.58h-1.58zM1047.25 982.75h4.75v1.58h-4.75zM1012.40 984.33h1.58v1.58h-1.58zM1015.57 984.33h4.75v1.58h-4.75zM1021.90 984.33h1.58v1.58h-1.58zM1026.66 984.33h1.58v1.58h-1.58zM1029.82 984.33h4.75v1.58h-4.75zM1036.16 984.33h9.50v1.58h-9.50zM1047.25 984.33h4.75v1.58h-4.75zM1012.40 985.91h1.58v1.58h-1.58zM1015.57 985.91h4.75v1.58h-4.75zM1021.90 985.91h1.58v1.58h-1.58zM1029.82 985.91h1.58v1.58h-1.58zM1032.99 985.91h14.26v1.58h-14.26zM1048.83 985.91h1.58v1.58h-1.58zM1012.40 987.50h1.58v1.58h-1.58zM1015.57 987.50h4.75v1.58h-4.75zM1021.90 987.50h1.58v1.58h-1.58zM1028.24 987.50h7.92v1.58h-7.92zM1037.74 987.50h1.58v1.58h-1.58zM1040.91 987.50h3.17v1.58h-3.17zM1045.66 987.50h3.17v1.58h-3.17zM1012.40 989.08h1.58v1.58h-1.58zM1021.90 989.08h1.58v1.58h-1.58zM1025.07 989.08h1.58v1.58h-1.58zM1029.82 989.08h3.17v1.58h-3.17zM1034.58 989.08h6.34v1.58h-6.34zM1044.08 989.08h1.58v1.58h-1.58zM1047.25 989.08h1.58v1.58h-1.58zM1050.42 989.08h1.58v1.58h-1.58zM1012.40 990.67h11.09v1.58h-11.09zM1025.07 990.67h12.67v1.58h-12.67zM1042.50 990.67h3.17v1.58h-3.17zM1047.25 990.67h4.75v1.58h-4.75z"/></svg>
<span style="left:1014px;top:996.6px;font-size:3.4px;line-height:3.4px;color:#e8e8e8;letter-spacing:.1px">www.steauanordului.ro</span>
<svg style="left:0;top:0" width="1200" height="1200" viewBox="0 0 1200 1200"><path fill="#141414" d="M1090.30 942.05h0.83v60.8h-0.83zM1091.96 942.05h0.83v60.8h-0.83zM1093.61 942.05h0.83v56.8h-0.83zM1096.93 942.05h1.66v56.8h-1.66zM1100.24 942.05h1.66v56.8h-1.66zM1102.73 942.05h1.66v56.8h-1.66zM1107.70 942.05h0.83v56.8h-0.83zM1109.35 942.05h0.83v56.8h-0.83zM1111.01 942.05h0.83v56.8h-0.83zM1115.15 942.05h0.83v56.8h-0.83zM1118.47 942.05h0.83v56.8h-0.83zM1120.12 942.05h1.66v56.8h-1.66zM1124.27 942.05h1.66v56.8h-1.66zM1126.75 942.05h0.83v56.8h-0.83zM1128.41 942.05h0.83v60.8h-0.83zM1130.06 942.05h0.83v60.8h-0.83zM1131.72 942.05h0.83v56.8h-0.83zM1135.03 942.05h0.83v56.8h-0.83zM1137.52 942.05h0.83v56.8h-0.83zM1141.66 942.05h0.83v56.8h-0.83zM1143.32 942.05h0.83v56.8h-0.83zM1147.46 942.05h0.83v56.8h-0.83zM1149.12 942.05h2.49v56.8h-2.49zM1153.26 942.05h0.83v56.8h-0.83zM1154.92 942.05h0.83v56.8h-0.83zM1158.23 942.05h0.83v56.8h-0.83zM1160.72 942.05h0.83v56.8h-0.83zM1163.20 942.05h0.83v56.8h-0.83zM1166.51 942.05h0.83v60.8h-0.83zM1168.17 942.05h0.83v60.8h-0.83z"/></svg>
<span class="bc" style="left:1081.4px;top:998.7px">6</span><span class="bc" style="left:1092.8px;top:998.7px">426390</span><span class="bc" style="left:1132.4px;top:998.7px">733078</span>
</div>
</body>
</html>
